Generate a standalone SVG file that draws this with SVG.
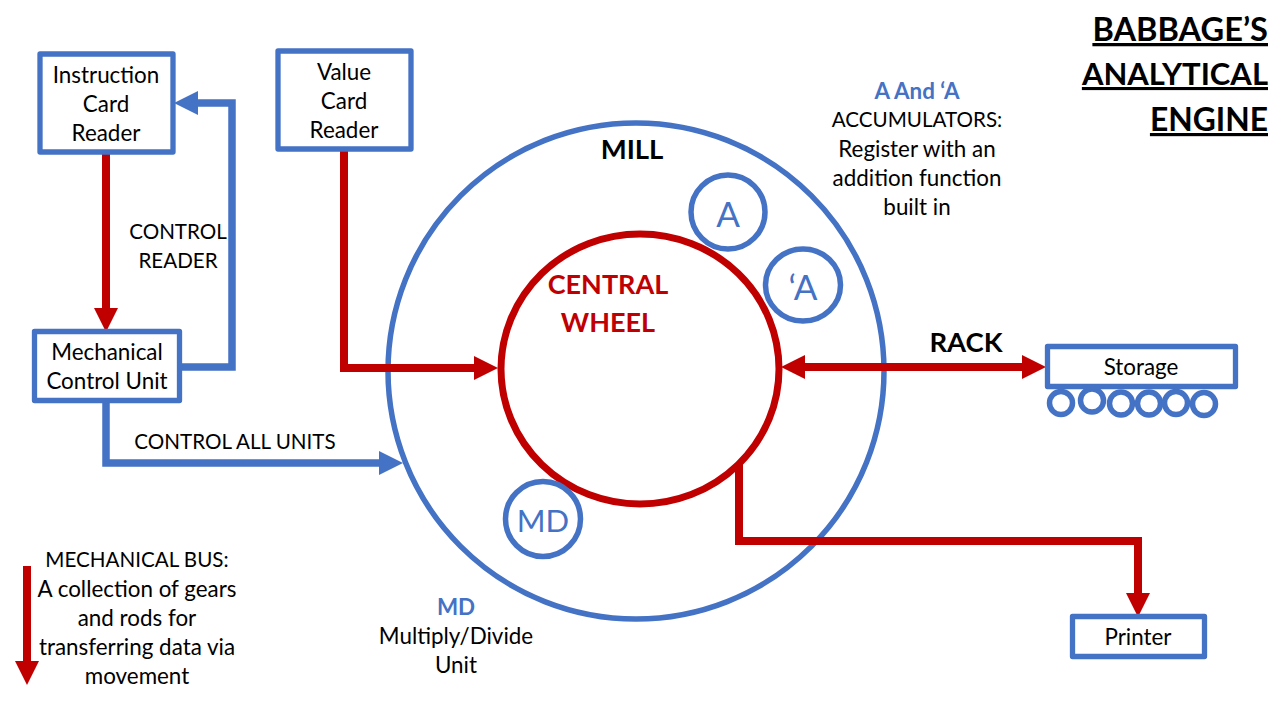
<svg xmlns="http://www.w3.org/2000/svg" width="1280" height="720" viewBox="0 0 1280 720">
<style>
text{font-family:Lato,"Open Sans","Liberation Sans",sans-serif;font-size:22.4px;fill:#000;text-anchor:middle}
.box{fill:#fff;stroke:#4472c4;stroke-width:5.3;stroke-linejoin:round}
.ring{fill:none;stroke:#4472c4;stroke-width:5.5}
.roll{fill:none;stroke:#4472c4;stroke-width:5.5}
.blue{fill:none;stroke:#4472c4;stroke-width:7.5}
.red{fill:none;stroke:#c00000;stroke-width:8}
.caps{font-size:20.6px}
.t{font-size:31px;font-weight:700;text-decoration:underline;text-anchor:end}
.b{font-weight:700;fill:#4472c4}
.bk{font-size:27.5px;font-weight:700}
.rd{font-size:27px;font-weight:700;fill:#c00000}
.c{font-size:35px;fill:#4472c4}
.cm{font-size:31px;fill:#4472c4}
</style>
<defs>
<marker id="ar" markerUnits="userSpaceOnUse" markerWidth="26" markerHeight="26" refX="4" refY="13" orient="auto-start-reverse"><path d="M0 1L24 13L0 25Z" fill="#c00000"/></marker>
<marker id="ab" markerUnits="userSpaceOnUse" markerWidth="26" markerHeight="26" refX="4" refY="13" orient="auto"><path d="M0 1L24 13L0 25Z" fill="#4472c4"/></marker>
</defs>
<g id="mill"><circle class="ring" cx="636" cy="371" r="248"/></g>
<g id="a"><circle class="ring" cx="728" cy="212" r="37"/><text class="c" x="728" y="227">A</text></g>
<g id="a2"><ellipse class="ring" cx="803" cy="285" rx="37.5" ry="36"/><text class="c" x="803" y="300">‘A</text></g>
<g id="wheel"><ellipse cx="640" cy="369" rx="139" ry="135" fill="none" stroke="#c00000" stroke-width="7"/></g>
<g id="connectors">
<path class="red" marker-end="url(#ar)" d="M106 151V312"/>
<path class="blue" marker-end="url(#ab)" d="M180 367H232V103H194"/>
<path class="blue" marker-end="url(#ab)" d="M106 401V463H383"/>
<path class="red" marker-end="url(#ar)" d="M344 149V368H478"/>
<path class="red" marker-start="url(#ar)" marker-end="url(#ar)" d="M801 367H1026"/>
<path class="red" marker-end="url(#ar)" d="M739 464V541H1138V597"/>
<path class="red" marker-end="url(#ar)" d="M27 566V665"/>
</g>
<g id="instruction"><rect class="box" x="40" y="54" width="133" height="98"/><text x="106" y="83">Instruction</text><text x="106" y="112">Card</text><text x="106" y="141">Reader</text></g>
<g id="value"><rect class="box" x="278" y="51" width="133" height="98"/><text x="344" y="80">Value</text><text x="344" y="109">Card</text><text x="344" y="138">Reader</text></g>
<g id="mcu"><rect class="box" x="34.5" y="331.5" width="145" height="69"/><text x="107" y="360">Mechanical</text><text x="107" y="389">Control Unit</text></g>
<g id="md"><circle class="ring" cx="543" cy="519" r="37.5"/><text class="cm" x="543" y="532">MD</text></g>
<g id="storage">
<circle class="roll" cx="1061" cy="403" r="11.5"/><circle class="roll" cx="1092" cy="400.5" r="11.5"/><circle class="roll" cx="1121" cy="403.5" r="11.5"/><circle class="roll" cx="1149" cy="403.5" r="11.5"/><circle class="roll" cx="1176" cy="403" r="11.5"/><circle class="roll" cx="1204" cy="404" r="11.5"/>
<rect class="box" x="1047.5" y="346.5" width="188" height="40"/><text x="1141" y="375">Storage</text>
</g>
<g id="printer"><rect class="box" x="1072.5" y="616.5" width="132" height="40"/><text x="1138" y="645">Printer</text></g>
<g id="labels">
<text class="t" x="1268" y="41" style="font-size:32.6px">BABBAGE’S</text><text class="t" x="1268" y="85">ANALYTICAL</text><text class="t" x="1268" y="131" style="font-size:31.8px">ENGINE</text>
<text class="b" x="917" y="99">A And ‘A</text><text class="caps" x="917" y="127">ACCUMULATORS:</text><text x="917" y="157">Register with an</text><text x="917" y="186">addition function</text><text x="917" y="215">built in</text>
<text class="bk" x="632" y="159">MILL</text><text class="bk" x="966" y="352">RACK</text>
<text class="rd" x="608" y="294">CENTRAL</text><text class="rd" x="608" y="332">WHEEL</text>
<text class="caps" x="178" y="239">CONTROL</text><text class="caps" x="178" y="268">READER</text>
<text class="caps" x="235" y="449">CONTROL ALL UNITS</text>
<text class="caps" x="137" y="567">MECHANICAL BUS:</text><text x="137" y="597">A collection of gears</text><text x="137" y="626">and rods for</text><text x="137" y="655">transferring data via</text><text x="137" y="684">movement</text>
<text class="b" x="456" y="615">MD</text><text x="456" y="644">Multiply/Divide</text><text x="456" y="673">Unit</text>
</g>
</svg>
